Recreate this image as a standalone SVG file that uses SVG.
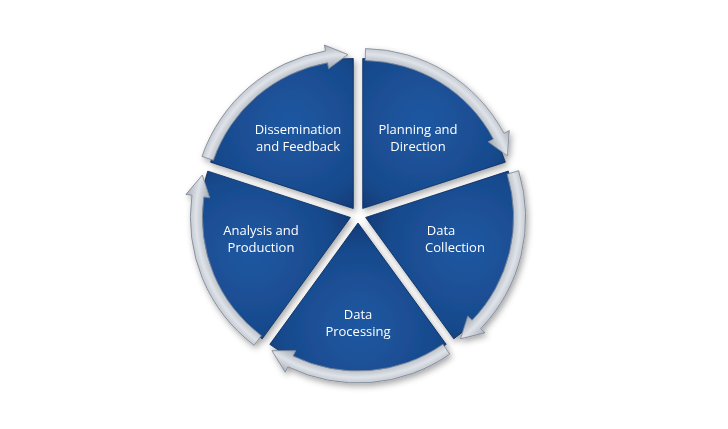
<svg xmlns="http://www.w3.org/2000/svg" width="728" height="429" viewBox="0 0 728 429">
<defs>
<radialGradient id="blue" gradientUnits="userSpaceOnUse" cx="60" cy="-85" r="110">
<stop offset="0" stop-color="#1f58a2"/><stop offset="0.7" stop-color="#184a8d"/><stop offset="1" stop-color="#0e3873"/>
</radialGradient>
<radialGradient id="gray" gradientUnits="userSpaceOnUse" cx="0" cy="0" r="166">
<stop offset="0.85" stop-color="#9aa2ae"/><stop offset="0.93" stop-color="#dfe3e9"/><stop offset="1" stop-color="#a8afba"/>
</radialGradient>
<filter id="sh" x="-20%" y="-20%" width="140%" height="140%"><feDropShadow dx="2" dy="3" stdDeviation="3" flood-color="#000" flood-opacity="0.35"/></filter>
<g id="seg">
<path class="w" d="M0,0 L0,-150 A150,150 0 0 1 142.66,-46.35 Z"/>
<path class="b" d="M2.79,-159.98 A160,160 0 0 1 141.27,-75.12 L146.57,-77.93 L144.71,-52.67 L125.38,-66.66 L130.68,-69.48 A148,148 0 0 0 2.58,-147.98 Z"/>
</g>
</defs>
<style>
.w{fill:url(#blue);stroke:#0a2d60;stroke-width:0.8}
.b{fill:url(#gray);stroke:#7f8896;stroke-width:0.8}
text{font-family:"Open Sans","Liberation Sans",sans-serif;font-size:13px;fill:#fff;text-anchor:middle}
</style>
<rect width="728" height="429" fill="#fff"/>
<g filter="url(#sh)">
<g id="planning" transform="translate(358,215) rotate(0) translate(4.7,-6.5)"><use href="#seg"/></g>
<g id="collection" transform="translate(358,215) rotate(72) translate(4.7,-6.5)"><use href="#seg"/></g>
<g id="processing" transform="translate(358,215) rotate(144) translate(4.7,-6.5)"><use href="#seg"/></g>
<g id="analysis" transform="translate(358,215) rotate(216) translate(4.7,-6.5)"><use href="#seg"/></g>
<g id="dissemination" transform="translate(358,215) rotate(288) translate(4.7,-6.5)"><use href="#seg"/></g>
</g>
<g id="connectors"/>
<g id="labels">
<text x="298" y="134">Dissemination</text><text x="298" y="151">and Feedback</text>
<text x="418" y="134">Planning and</text><text x="418" y="151">Direction</text>
<text x="441" y="235">Data</text><text x="455" y="252">Collection</text>
<text x="358" y="319">Data</text><text x="358" y="336">Processing</text>
<text x="261" y="235">Analysis and</text><text x="261" y="252">Production</text>
</g>
</svg>
